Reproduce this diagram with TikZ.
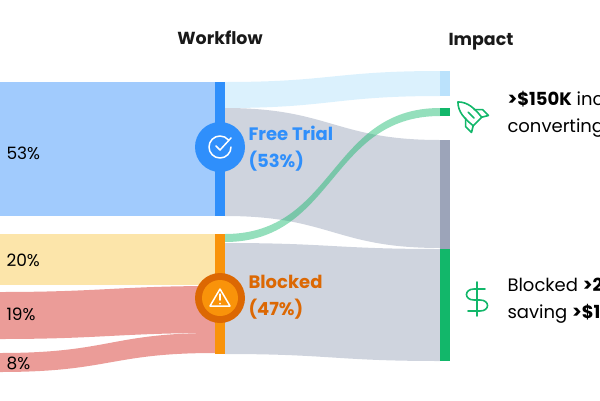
\documentclass[tikz,border=0pt]{standalone}
\usepackage{fontspec}
\setmainfont{Poppins}
\definecolor{blueflow}{HTML}{A1CBFD}
\definecolor{bluebar}{HTML}{2F8FFB}
\definecolor{skyflow}{HTML}{DBF1FD}
\definecolor{skynode}{HTML}{BBE2FC}
\definecolor{yellowflow}{HTML}{FCE5AA}
\definecolor{redflow}{HTML}{EB9C98}
\definecolor{orangebar}{HTML}{F9930A}
\definecolor{orangedark}{HTML}{DC6803}
\definecolor{grayflow}{HTML}{CFD4DE}
\definecolor{graynode}{HTML}{9CA4B9}
\definecolor{greennode}{HTML}{12B76A}
\tikzset{
  heading/.style={font=\fontsize{17.4}{20}\selectfont\bfseries,text=black!90,anchor=base},
  pct/.style={font=\fontsize{17}{20}\selectfont,anchor=base west,text=black},
  stage/.style={font=\fontsize{18}{27}\selectfont\bfseries,anchor=west,align=left},
  outcome/.style={font=\fontsize{18}{27}\selectfont,anchor=west,align=left,text=black},
  icon/.style={draw=white,line width=1.5pt,line cap=round,line join=round},
  greenicon/.style={draw=greennode,line width=1.6pt,line cap=round,line join=round}
}
\begin{document}
\begin{tikzpicture}[x=1pt,y=-1pt]
  \useasboundingbox (0,0) rectangle (600,400);
  % left flows
  \fill[blueflow] (0,82) rectangle (215,216);
  \fill[yellowflow] (0,234) rectangle (215,285);
  \fill[redflow] (0,292) .. controls (100,292) and (120,286) .. (215,286)
    -- (215,333) .. controls (120,333) and (100,339) .. (0,339) -- cycle;
  \fill[redflow] (0,353) .. controls (110,353) and (110,333) .. (215,333)
    -- (215,353) .. controls (110,353) and (110,372) .. (0,372) -- cycle;
  % right flows
  \fill[skyflow] (225,82) .. controls (330,82) and (335,71) .. (440,71)
    -- (440,96) .. controls (335,96) and (330,108) .. (225,108) -- cycle;
  \fill[grayflow] (225,108) .. controls (330,108) and (335,140) .. (440,140)
    -- (440,248) .. controls (335,248) and (330,216) .. (225,216) -- cycle;
  \fill[grayflow] (225,243) .. controls (330,243) and (335,249) .. (440,249)
    -- (440,361) .. controls (335,361) and (330,354) .. (225,354) -- cycle;
  \fill[greennode,opacity=.45] (225,234) .. controls (335,234) and (330,108) .. (440,108)
    -- (440,116) .. controls (330,116) and (335,242) .. (225,242) -- cycle;
  % bars
  \fill[bluebar] (215,82) rectangle (225,216);
  \fill[orangebar] (215,234) rectangle (225,354);
  \fill[skynode] (440,71) rectangle (450,96);
  \fill[greennode] (440,108) rectangle (450,116);
  \fill[graynode] (440,140) rectangle (450,249);
  \fill[greennode] (440,249) rectangle (450,361);
  % badges
  \fill[bluebar] (220,147) circle[radius=25];
  \draw[icon] (231,147) arc[start angle=0,end angle=320,radius=11];
  \draw[icon] (216,146) -- (220,150) -- (231,138);
  \fill[orangedark] (220,298) circle[radius=25];
  \fill[orangebar] (220,298) circle[radius=18];
  \draw[icon] (220,289) -- (230,306) -- (210,306) -- cycle;
  \draw[icon] (220,294) -- (220,300);
  \fill[white] (220,303.5) circle[radius=1];
  % rocket
  \begin{scope}[shift={(471.5,115.5)},rotate=45,scale=1.2]
    \draw[greenicon] (0,-16) .. controls (6,-10) and (6,-2) .. (5,7) -- (-5,7) .. controls (-6,-2) and (-6,-10) .. (0,-16) -- cycle;
    \draw[greenicon] (-5,-2) -- (-10,3) -- (-10,10) -- (-5,7);
    \draw[greenicon] (5,-2) -- (10,3) -- (10,10) -- (5,7);
    \draw[greenicon] (0,3) -- (0,-4);
  \end{scope}
  % dollar
  \draw[greenicon] (477,282) -- (477,316);
  \draw[greenicon] (485,289) -- (474,289)
    .. controls (464,289) and (464,300) .. (474,300) -- (480,300)
    .. controls (490,300) and (490,311) .. (480,311) -- (468,311);
  % text
  \node[heading] (workflow) at (220,44) {Workflow};
  \node[heading] (impact) at (481,45) {Impact};
  \node[pct] (bluepct) at (3,159) {53\%};
  \node[pct] (yellowpct) at (3,266) {20\%};
  \node[pct] (redpct) at (3,320) {19\%};
  \node[pct] (smallpct) at (3,369) {8\%};
  \node[stage,text=bluebar] (trial) at (245,149) {Free Trial\\(53\%)};
  \node[stage,text=orangedark] (blocked) at (245,297) {Blocked\\(47\%)};
  \node[outcome] (gain) at (504,114) {\textbf{>\$150K} inc\\converting};
  \node[outcome] (save) at (504,301) {Blocked \textbf{>2}\\saving \textbf{>\$1}};
\end{tikzpicture}
\end{document}
